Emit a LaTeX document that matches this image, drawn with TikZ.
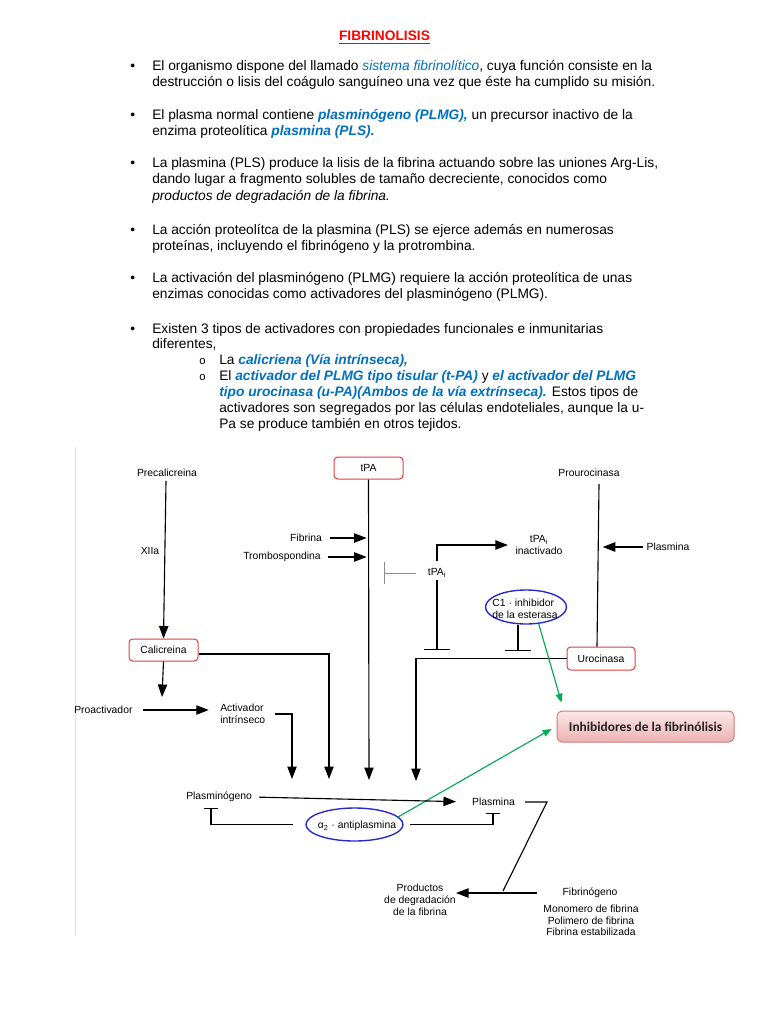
\documentclass[tikz,border=0pt]{standalone}
\usepackage{fontspec}
\setmainfont{Liberation Sans}
\newfontfamily\calib{Carlito}
\usetikzlibrary{arrows.meta,shapes.geometric,calc}
\definecolor{tblue}{RGB}{0,112,192}
\definecolor{tred}{RGB}{255,0,0}
\definecolor{boxred}{RGB}{228,60,60}
\definecolor{ellblue}{RGB}{40,40,210}
\definecolor{lgreen}{RGB}{0,170,80}
\newcommand{\bbl}[1]{\textcolor{tblue}{\bfseries\itshape #1}}
\tikzset{
  body/.style={anchor=base west, inner sep=0pt, font=\fontsize{11}{13}\selectfont},
  dtxt/.style={inner sep=0pt, align=center, font=\fontsize{8.3}{9.6}\selectfont},
  rbox/.style={draw=boxred, line width=0.8pt, rounded corners=3pt, minimum height=17.6pt, inner sep=0pt, font=\fontsize{8.3}{9.6}\selectfont},
  bellipse/.style={ellipse, draw=ellblue, line width=1.1pt, inner sep=0pt},
  inhbox/.style={draw={rgb,255:red,205;green,125;blue,125}, line width=0.8pt, rounded corners=4pt,
     top color={rgb,255:red,252;green,232;blue,232}, bottom color={rgb,255:red,236;green,178;blue,178},
     minimum width=141.6pt, minimum height=24.8pt, inner sep=0pt,
     font=\calib\bfseries\fontsize{10.7}{12}\selectfont, text={rgb,255:red,35;green,35;blue,35}},
  arr/.style={line width=0.9pt, -{Triangle[length=10pt,width=7.5pt]}},
  inh/.style={line width=0.9pt, -{Bar[width=#1]}},
  inh/.default=21pt,
  inhg/.style={line width=0.8pt, draw=black!45, -{Bar[width=17.6pt]}},
  garr/.style={draw=lgreen, line width=0.9pt, -{Triangle[length=7pt,width=5.5pt]}}
}
\begin{document}
\begin{tikzpicture}[x=0.8pt,y=-0.8pt]
\fill[white] (0,0) rectangle (768,1024);
\useasboundingbox (0,0) rectangle (768,1024);

% ---------- text part ----------
\node[anchor=base, inner sep=0pt, font=\fontsize{11}{13}\selectfont\bfseries, text=tred] (title) at (384.5,41) {\underline{FIBRINOLISIS}};

\node[body] (b1) at (130,71) {•};
\node[body] (t1a) at (152,71) {El organismo dispone del llamado \textcolor{tblue}{\itshape sistema fibrinolítico}, cuya función consiste en la};
\node[body] (t1b) at (152,87) {destrucción o lisis del coágulo sanguíneo una vez que éste ha cumplido su misión.};

\node[body] (b2) at (130,120) {•};
\node[body] (t2a) at (152,120) {El plasma normal contiene \bbl{plasminógeno (PLMG),} un precursor inactivo de la};
\node[body] (t2b) at (152,136) {enzima proteolítica \bbl{plasmina (PLS).}};

\node[body] (b3) at (130,168) {•};
\node[body] (t3a) at (152,168) {La plasmina (PLS) produce la lisis de la fibrina actuando sobre las uniones Arg-Lis,};
\node[body] (t3b) at (152,184) {dando lugar a fragmento solubles de tamaño decreciente, conocidos como};
\node[body] (t3c) at (152,201) {\itshape productos de degradación de la fibrina.};

\node[body] (b4) at (130,234) {•};
\node[body] (t4a) at (152,234) {La acción proteolítca de la plasmina (PLS) se ejerce además en numerosas};
\node[body] (t4b) at (152,250) {proteínas, incluyendo el fibrinógeno y la protrombina.};

\node[body] (b5) at (130,282) {•};
\node[body] (t5a) at (152,282) {La activación del plasminógeno (PLMG) requiere la acción proteolítica de unas};
\node[body] (t5b) at (152,298) {enzimas conocidas como activadores del plasminógeno (PLMG).};

\node[body] (b6) at (130,333) {•};
\node[body] (t6a) at (152,333) {Existen 3 tipos de activadores con propiedades funcionales e inmunitarias};
\node[body] (t6b) at (152,348) {diferentes,};
\node[body, font=\fontsize{9}{11}\selectfont] (s1) at (199,364) {o};
\node[body] (u1) at (219,364) {La \bbl{calicriena (Vía intrínseca),}};
\node[body, font=\fontsize{9}{11}\selectfont] (s2) at (199,380) {o};
\node[body] (u2a) at (219,380) {El \bbl{activador del PLMG tipo tisular (t-PA)} y \bbl{el activador del PLMG}};
\node[body] (u2b) at (219,396) {\bbl{tipo urocinasa (u-PA)(Ambos de la vía extrínseca).} Estos tipos de};
\node[body] (u2c) at (219,412) {activadores son segregados por las células endoteliales, aunque la u-};
\node[body] (u2d) at (219,428) {Pa se produce también en otros tejidos.};

% ---------- diagram ----------
\coordinate (frtop) at (75,447);
\coordinate (frbot) at (75,935);
\draw[black!12, line width=0.8pt] (frtop) -- (frbot);

\node[dtxt] (pre) at (167,473) {Precalicreina};
\node[dtxt] (xiia) at (150,551) {XIIa};
\node[rbox, minimum width=55.2pt] (cal) at (163.5,650) {Calicreina};
\node[rbox, minimum width=55.2pt] (tpa) at (368.5,468) {tPA};
\node[dtxt] (fib) at (306,538) {Fibrina};
\node[dtxt] (trom) at (282,557) {Trombospondina};
\node[dtxt] (tpai) at (437,573) {tPA\textsubscript{i}};
\node[dtxt] (tpaiin) at (539,545) {tPA\textsubscript{i}\\inactivado};
\node[bellipse, minimum width=64.8pt, minimum height=27.2pt] (c1) at (526,607) {};
\node[dtxt, align=left] (c1t) at (525,608.5) {C1 · inhibidor\\de la esterasa};
\node[dtxt] (prou) at (589,473) {Prourocinasa};
\node[dtxt] (plr) at (668,547) {Plasmina};
\node[rbox, minimum width=54.4pt, minimum height=18.4pt] (uro) at (601,658.5) {Urocinasa};
\node[inhbox] (inhb) at (645.5,726.5) {Inhibidores de la fibrinólisis};
\node[dtxt, anchor=west] (proa) at (74,710) {Proactivador};
\node[dtxt, anchor=west, align=left] (act) at (220,714) {Activador\\intrínseco};
\node[dtxt, anchor=west] (plg) at (186,797) {Plasminógeno};
\node[dtxt] (plm) at (493.5,802) {Plasmina};
\node[bellipse, minimum width=77.6pt, minimum height=26.4pt] (a2) at (354.5,824.5) {};
\node[dtxt] (a2t) at (357,826) {α\textsubscript{2} · antiplasmina};
\node[dtxt] (pdf) at (420,899.5) {Productos\\de degradación\\de la fibrina};
\node[dtxt] (fbg) at (590,893) {Fibrinógeno};
\node[dtxt, font=\fontsize{8.3}{9.2}\selectfont] (fbl) at (591,920.5) {Monomero de fibrina\\Polimero de fibrina\\Fibrina estabilizada};

\coordinate (preo) at (166,481);
\coordinate (calo) at (162,697);
\coordinate (in1) at (292,779);
\coordinate (in2) at (329,779);
\coordinate (in3) at (369,780);
\coordinate (in4) at (416,781);
\coordinate (tbarA) at (384,573);
\coordinate (tbar1) at (437,650);
\coordinate (tbar2) at (518,651);
\coordinate (prouo) at (599,484);
\coordinate (bar3) at (211,808);
\coordinate (bar4) at (493,813);
\coordinate (kink) at (547,802);
\coordinate (junc) at (503,891);

\draw[arr] (preo) -- (cal.north);
\draw[arr] ($(cal.east)+(0,4)$) -| (in2);
\draw[arr] (cal.south) -- (calo);
\draw[arr, shorten <=8pt, shorten >=9pt] (proa.east) -- (proa.east -| act.west);
\draw[arr, shorten <=8pt] (act.east) -| (in1);
\draw[arr] (tpa.south) -- (in3);
\draw[arr, shorten <=6pt, shorten >=1.5pt] (fib.east) -- (fib.east -| tpa.south);
\draw[arr, shorten <=6pt, shorten >=1.5pt] (trom.east) -- (trom.east -| tpa.south);
\draw[inhg, shorten <=9pt] (tpai.west) -- (tbarA);
\draw[arr, shorten <=6pt, shorten >=6pt] (tpai.north) |- (tpaiin.west);
\draw[inh, shorten <=2pt] (tpai.south) -- (tbar1);
\draw[inh] (tbar2 |- c1.south) -- (tbar2);
\draw[line width=0.9pt] (prouo) -- ([xshift=-3.2pt]uro.north);
\draw[arr, shorten <=3pt, shorten >=3pt] (plr.west) -- (plr.west -| prouo);
\draw[arr] (uro.west) -| (in4);
\draw[garr] (c1.-53) -- ($(inhb.north west)+(5,-8)$);
\draw[garr] (a2.10) -- ($(inhb.west)+(-5,2.5)$);
\draw[arr, shorten <=5.5pt, shorten >=12.8pt] (plg.east) -- (plm.west);
\draw[inh=11pt, shorten <=10pt] (a2.west) -| (bar3);
\draw[inh=11pt, shorten <=5pt] (a2.east) -| (bar4);
\draw[line width=0.9pt, shorten <=8pt] (plm.east) -- (kink) -- (junc);
\draw[arr, shorten <=20pt] (fbg.west) -- (fbg.west -| pdf.east);
\end{tikzpicture}
\end{document}
